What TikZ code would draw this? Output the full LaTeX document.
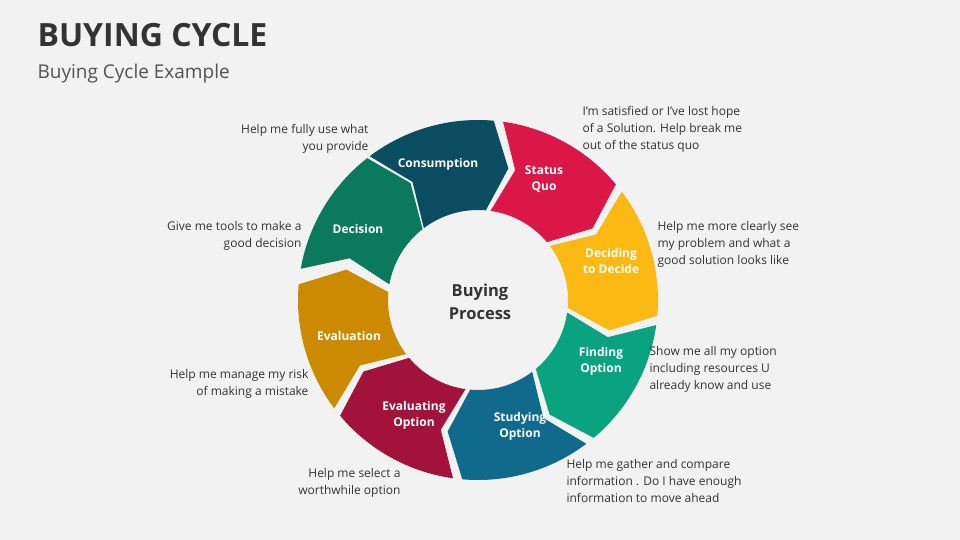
\documentclass[tikz,border=0pt]{standalone}
\usepackage{fontspec}
\setmainfont{Open Sans}
\definecolor{bg}{HTML}{F2F2F2}
\definecolor{cCons}{HTML}{0B4D60}
\definecolor{cStat}{HTML}{DA1747}
\definecolor{cDec}{HTML}{FDB913}
\definecolor{cFind}{HTML}{0AA37F}
\definecolor{cStud}{HTML}{0F6A8B}
\definecolor{cEvg}{HTML}{A3123A}
\definecolor{cEvl}{HTML}{CC8A00}
\definecolor{cDcs}{HTML}{0B7A5C}
\definecolor{txt}{HTML}{333333}
\tikzset{
 seglbl/.style={text=white,font=\bfseries\fontsize{12}{16}\selectfont,align=center},
 desc/.style={text=txt,font=\fontsize{12}{17}\selectfont},
 descR/.style={desc,align=right,anchor=north east},
 descL/.style={desc,align=left,anchor=north west}
}
\newcommand\mkseg[2]{% center angle, colour
 \pgfmathsetmacro\Tt{#1+21}\pgfmathsetmacro\Ll{#1-21}
 \pgfmathsetmacro\Tn{#1+21-8}\pgfmathsetmacro\Lp{#1-21-8}
 \fill[#2] (\Tt:180) arc[start angle=\Tt,end angle=\Ll,radius=180] -- (\Lp:135) -- (\Ll:90)
   arc[start angle=\Ll,end angle=\Tt,radius=90] -- (\Tn:135) -- cycle;}
\begin{document}
\begin{tikzpicture}[x=1pt,y=-1pt]
\fill[bg] (0,0) rectangle (960,540);
\useasboundingbox (0,0) rectangle (960,540);
\node[anchor=west,text=txt,font=\bfseries\fontsize{32}{36}\selectfont] (title) at (34,35) {BUYING CYCLE};
\node[anchor=west,text=txt!85,font=\fontsize{19}{22}\selectfont] (sub) at (34,74) {Buying Cycle Example};
\begin{scope}[shift={(478,300)},y=1pt]
\mkseg{106}{cCons}
\mkseg{61}{cStat}
\mkseg{16}{cDec}
\mkseg{-29}{cFind}
\mkseg{-74}{cStud}
\mkseg{-119}{cEvg}
\mkseg{-164}{cEvl}
\mkseg{149}{cDcs}
\end{scope}
\node[seglbl] (s1) at (438,164) {Consumption};
\node[seglbl] (s2) at (544,179) {Status\\Quo};
\node[seglbl] (s3) at (611,261) {Deciding\\to Decide};
\node[seglbl] (s4) at (601,361) {Finding\\Option};
\node[seglbl] (s5) at (520,426) {Studying\\Option};
\node[seglbl] (s6) at (414,415) {Evaluating\\Option};
\node[seglbl] (s7) at (349,336) {Evaluation};
\node[seglbl] (s8) at (358,229) {Decision};
\node[text=txt,font=\bfseries\fontsize{16.5}{23}\selectfont,align=center] (c) at (480,302) {Buying\\Process};
\node[descR] (d1) at (372,121) {Help me fully use what\\you provide};
\node[descR] (d8) at (305,218) {Give me tools to make a\\good decision};
\node[descR] (d7) at (312,366) {Help me manage my risk\\of making a mistake};
\node[descR] (d6) at (404,465) {Help me select a\\worthwhile option};
\node[descL] (d2) at (579,103) {I’m satisfied or I’ve lost hope\\of a Solution. Help break me\\out of the status quo};
\node[descL] (d3) at (654,218) {Help me more clearly see\\my problem and what a\\good solution looks like};
\node[descL] (d4) at (646,343) {Show me all my option\\including resources U\\already know and use};
\node[descL] (d5) at (563,456) {Help me gather and compare\\information . Do I have enough\\information to move ahead};
\end{tikzpicture}
\end{document}
